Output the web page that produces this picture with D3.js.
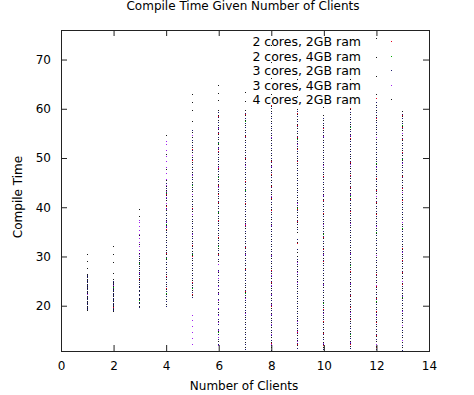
<!DOCTYPE html>
<html><head><meta charset="utf-8">
<script src="https://cdn.jsdelivr.net/npm/d3@7"></script>
<style>body{margin:0;background:#fff}svg{display:block}text{font-family:"DejaVu Sans",sans-serif;fill:#000}</style>
</head><body><svg id="c" width="474" height="395"></svg>
<script>
const clients = [1,2,3,4,5,6,7,8,9,10,11,12,13];
const xTicks = [0,2,4,6,8,10,12,14];
const yTicks = [20,30,40,50,60,70];
const seriesNames = ["2 cores, 2GB ram","2 cores, 4GB ram","3 cores, 2GB ram","3 cores, 4GB ram","4 cores, 2GB ram"];
const seriesColors = ["#e8001c","#00b000","#1a1a70","#a020f0","#181818"];

// compile times per client count (row 0 -> 1 client ... row 12 -> 13 clients)
const cores2ram2 = [
 [20.2,21.5,22.7,23.8,25.1,26.0],
 [19.6,20.9,22.4,23.9,25.0],
 [20.5,22.1,23.6,25.3,27.1,28.8,29.9],
 [21.2,23.4,25.9,28.3,30.6,32.9,35.4,37.8,40.1,42.6,44.8],
 [22.3,24.8,27.2,29.9,32.3,34.7,37.2,39.8,42.1,44.6,47.0,49.5,51.8,54.2],
 [30.4,32.1,33.9,35.6,37.4,39.1,40.9,42.6,44.4,46.1,47.9,49.6,51.4,53.1,54.9,56.6,58.4,59.6],
 [20.6,22.8,25.1,27.3,29.6,31.8,34.1,36.3,38.6,40.8,43.1,45.3,47.6,49.8,52.1,54.3,56.6,58.8],
 [12.4,14.9,17.3,19.8,22.2,24.7,27.1,29.6,32.0,34.5,36.9,39.4,41.8,44.3,46.7,49.2,51.6,54.1,56.5,59.0,60.6],
 [12.1,14.6,17.0,19.5,21.9,24.4,26.8,29.3,32.6,37.1,39.5,42.0,44.4,46.9,49.3,51.8,54.2,56.7,59.1],
 [11.9,14.3,16.8,19.2,21.7,24.1,26.6,29.0,31.5,33.9,36.4,38.8,41.3,43.7,46.2,48.6,51.1,53.5,56.0,58.0],
 [12.2,14.7,17.1,19.6,22.0,24.5,26.9,29.4,31.8,34.3,36.7,39.2,41.6,44.1,46.5,49.0,51.4,53.9,56.3,58.8,60.1],
 [11.6,14.0,16.5,18.9,21.4,23.8,26.3,28.7,31.2,33.6,36.1,38.5,41.0,43.4,45.9,48.3,50.8,53.2,55.7,58.1,60.6,62.0],
 [12.0,14.5,16.9,19.4,21.8,24.3,26.7,29.2,31.6,34.1,36.5,39.0,41.4,43.9,46.3,48.8,51.2,53.7,56.1,58.6]
];
const cores2ram4 = [
 [19.8,22.9,25.7],
 [20.2,23.7],
 [21.1,25.2,28.6],
 [22.5,29.5,36.5,43.0],
 [23.5,30.5,37.5,44.5,51.5],
 [14.5,32.0,39.0,46.0,53.0],
 [15.5,22.5,29.5,36.5,43.5,50.5,57.5],
 [14.0,21.0,28.0,35.0,42.0,49.0,56.0],
 [14.8,21.8,39.8,46.8,53.8],
 [13.5,20.5,27.5,34.5,41.5,48.5,55.5],
 [14.2,21.2,28.2,35.2,42.2,49.2,56.2],
 [13.8,20.8,27.8,34.8,41.8,48.8,55.8],
 [14.6,21.6,28.6,35.6,42.6,49.6,56.6]
];
const cores3ram2 = [
 [19.2,19.7,20.2,20.7,21.2,21.7,22.2,22.7,23.2,23.7,24.2,24.7,25.2,25.7,26.2],
 [19.0,19.5,20.0,20.5,21.0,21.5,22.0,22.5,23.0,23.5,24.0,24.5,25.0],
 [19.6,20.4,21.2,22.0,22.8,23.6,24.4,25.2,26.0,26.8,27.6,28.4,29.2,30.0],
 [19.8,20.8,21.8,22.8,23.8,24.8,25.8,26.8,27.8,28.8,29.8,30.8,31.8,32.8,33.8,34.8,35.8,36.8,37.8,38.8,39.8,40.8,41.8,42.8,43.8,44.8],
 [21.6,22.6,23.6,24.6,25.6,26.6,27.6,28.6,29.6,30.6,31.6,32.6,33.6,34.6,35.6,36.6,37.6,38.6,39.6,40.6,41.6,42.6,43.6,44.6,45.6,46.6,47.6,48.6,49.6,50.6,51.6,52.6,53.6,54.6,55.6],
 [12.2,13.2,14.2,15.2,16.2,17.2,18.2,19.2,20.2,21.2,22.2,23.2,24.2,25.2,26.2,27.2,28.4,29.3,30.2,31.2,32.2,33.2,34.2,35.2,36.2,37.2,38.2,39.2,40.2,41.2,42.2,43.2,44.2,45.2,46.2,47.2,48.2,49.2,50.2,51.2,52.2,53.2,54.2,55.2,56.2,57.2,58.2,59.2],
 [11.1,12.1,13.1,14.1,15.1,16.1,17.1,18.1,19.1,20.1,21.1,22.1,23.1,24.1,25.1,26.1,27.1,28.1,29.1,30.1,31.1,32.1,33.1,34.1,35.1,36.1,37.1,38.1,39.1,40.1,41.1,42.1,43.1,44.1,45.1,46.1,47.1,48.1,49.1,50.1,51.1,52.1,53.1,54.1,55.1,56.1,57.1,58.1,59.1],
 [11.0,12.0,13.0,14.0,15.0,16.0,17.0,18.0,19.0,20.0,21.0,22.0,23.0,24.0,25.0,26.0,27.0,28.0,29.0,30.0,31.0,32.0,33.0,34.0,35.0,36.0,37.0,38.0,39.0,40.0,41.0,42.0,43.0,44.0,45.0,46.0,47.0,48.0,49.0,50.0,51.0,52.0,53.0,54.0,55.0,56.0,57.0,58.0,59.0,60.0],
 [11.4,12.4,13.4,14.4,15.4,16.4,17.4,18.4,19.4,20.4,21.4,22.4,23.4,24.4,25.4,26.4,27.4,28.4,29.4,31.4,33.4,35.4,36.4,37.4,38.4,39.4,40.4,41.4,42.4,43.4,44.4,45.4,46.4,47.4,48.4,49.4,50.4,51.4,52.4,53.4,54.4,55.4,56.4,57.4,58.4,59.4],
 [11.1,12.1,13.1,14.1,15.1,16.1,17.1,18.1,19.1,20.1,21.1,22.1,23.1,24.1,25.1,26.1,27.1,28.1,29.1,30.1,31.1,32.1,33.1,34.1,35.1,36.1,37.1,38.1,39.1,40.1,41.1,42.1,43.1,44.1,45.1,46.1,47.1,48.1,49.1,50.1,51.1,52.1,53.1,54.1,55.1,56.1,57.1,58.1],
 [11.3,12.3,13.3,14.3,15.3,16.3,17.3,18.3,19.3,20.3,21.3,22.3,23.3,24.3,25.3,26.3,27.3,28.3,29.3,30.3,31.3,32.3,33.3,34.3,35.3,36.3,37.3,38.3,39.3,40.3,41.3,42.3,43.3,44.3,45.3,46.3,47.3,48.3,49.3,50.3,51.3,52.3,53.3,54.3,55.3,56.3,57.3,58.3,59.3],
 [11.2,12.2,13.2,14.2,15.2,16.2,17.2,18.2,19.2,20.2,21.2,22.2,23.2,24.2,25.2,26.2,27.2,28.2,29.2,30.2,31.2,32.2,33.2,34.2,35.2,36.2,37.2,38.2,39.2,40.2,41.2,42.2,43.2,44.2,45.2,46.2,47.2,48.2,49.2,50.2,51.2,52.2,53.2,54.2,55.2,56.2,57.2,58.2,59.2,60.2,61.2],
 [11.0,12.0,13.0,14.0,15.0,16.0,17.0,18.0,19.0,20.0,21.0,22.0,23.0,24.0,25.0,26.0,27.0,28.0,29.0,30.0,31.0,32.0,33.0,34.0,35.0,36.0,37.0,38.0,39.0,40.0,41.0,42.0,43.0,44.0,45.0,46.0,47.0,48.0,49.0,50.0,51.0,52.0,53.0,54.0,55.0,56.0,57.0,58.0,58.8]
];
const cores3ram4 = [
 [20.4,22.3,24.4],
 [21.3,24.1],
 [26.5,28.0,29.5,30.4,31.2,32.0,32.8,33.6,34.4,35.2,36.0,36.8,37.4],
 [36.0,37.2,38.4,39.6,40.8,42.0,43.2,44.4,45.6,46.8,48.0,49.2,50.4,51.6,52.8,53.4],
 [12.2,13.4,14.6,15.8,17.0,18.1,34.5,38.5,42.5,46.5,50.5,54.5],
 [12.0,13.5,15.0,16.5,18.0,19.5,21.0,22.5,24.0,25.5,27.0,28.3,44.0,48.0,52.0,56.0],
 [12.5,15.5,18.5,21.5,24.5,27.5,30.5,36.5,42.5,48.5,54.5],
 [12.2,14.2,16.2,18.2,20.2,22.2,24.2,26.2,30.2,36.2,42.2,48.2,54.2],
 [12.8,14.8,16.8,18.8,20.8,22.8,24.8,26.8,28.8,40.8,46.8,52.8],
 [12.4,18.4,24.4,30.4,36.4,42.4,48.4,54.4],
 [12.6,18.6,24.6,30.6,36.6,42.6,48.6,54.6],
 [12.1,18.1,24.1,30.1,36.1,42.1,48.1,54.1],
 [12.9,15.9,18.9,21.9,24.9,30.9,36.9,42.9,48.9,54.9]
];
const cores4ram2 = [
 [19.0,19.4,19.9,20.4,20.9,21.4,21.9,22.4,22.9,23.4,23.9,24.4,24.9,25.4,25.9,26.4,27.6,28.9,30.3],
 [18.9,19.3,19.8,20.3,20.8,21.3,21.8,22.3,22.8,23.3,23.8,24.3,24.8,25.3,26.6,28.7,30.4,32.1],
 [19.9,20.7,21.5,22.3,23.1,23.9,24.7,25.5,26.3,27.1,27.9,28.7,29.5,30.6,32.4,34.2,38.1,39.5],
 [20.2,21.3,22.3,23.3,24.3,25.3,26.3,27.3,28.3,29.3,30.3,31.3,32.3,33.3,34.3,35.3,36.3,37.3,38.3,39.3,40.3,41.3,42.3,43.3,44.3,45.4,47.6,50.8,54.6],
 [22.1,23.1,24.1,25.1,26.1,27.1,28.1,29.1,30.1,31.1,32.1,33.1,34.1,35.1,36.1,37.1,38.1,39.1,40.1,41.1,42.1,43.1,44.1,45.1,46.1,47.1,48.1,49.1,50.1,51.1,52.1,53.1,54.1,55.1,57.4,59.6,61.2,62.8],
 [12.7,14.7,16.7,18.7,20.7,22.7,24.7,26.7,28.9,30.7,31.7,32.7,33.7,34.7,35.7,36.7,37.7,38.7,39.7,40.7,41.7,42.7,43.7,44.7,45.7,46.7,47.7,48.7,49.7,50.7,51.7,52.7,53.7,54.7,55.7,56.7,57.7,58.7,59.7,61.6,63.2,64.8],
 [11.6,12.6,13.6,14.6,15.6,16.6,17.6,18.6,19.6,20.6,21.6,22.6,23.6,24.6,25.6,26.6,27.6,28.6,29.6,30.6,31.6,32.6,33.6,34.6,35.6,36.6,37.6,38.6,39.6,40.6,41.6,42.6,43.6,44.6,45.6,46.6,47.6,48.6,49.6,50.6,51.6,52.6,53.6,54.6,55.6,56.6,57.6,58.6,59.6,61.5,63.4],
 [11.5,12.5,13.5,14.5,15.5,16.5,17.5,18.5,19.5,20.5,21.5,22.5,23.5,24.5,25.5,26.5,27.5,28.5,29.5,30.5,31.5,32.5,33.5,34.5,35.5,36.5,37.5,38.5,39.5,40.5,41.5,42.5,43.5,44.5,45.5,46.5,47.5,48.5,49.5,50.5,51.5,52.5,53.5,54.5,55.5,56.5,57.5,58.5,59.5,60.5,63.0,66.2,69.4,72.9],
 [11.9,12.9,13.9,14.9,15.9,16.9,17.9,18.9,19.9,20.9,21.9,22.9,23.9,24.9,25.9,26.9,27.9,28.9,29.9,30.9,32.9,34.9,35.9,36.9,37.9,38.9,39.9,40.9,41.9,42.9,43.9,44.9,45.9,46.9,47.9,48.9,49.9,50.9,51.9,52.9,53.9,54.9,55.9,56.9,57.9,58.9,59.9,62.5,64.3,66.0],
 [11.6,12.6,13.6,14.6,15.6,16.6,17.6,18.6,19.6,20.6,21.6,22.6,23.6,24.6,25.6,26.6,27.6,28.6,29.6,30.6,31.6,32.6,33.6,34.6,35.6,36.6,37.6,38.6,39.6,40.6,41.6,42.6,43.6,44.6,45.6,46.6,47.6,48.6,49.6,50.6,51.6,52.6,53.6,54.6,55.6,56.6,57.6,58.6,60.2],
 [11.8,12.8,13.8,14.8,15.8,16.8,17.8,18.8,19.8,20.8,21.8,22.8,23.8,24.8,25.8,26.8,27.8,28.8,29.8,30.8,31.8,32.8,33.8,34.8,35.8,36.8,37.8,38.8,39.8,40.8,41.8,42.8,43.8,44.8,45.8,46.8,47.8,48.8,49.8,50.8,51.8,52.8,53.8,54.8,55.8,56.8,57.8,58.8,59.8,61.5,66.0,70.0,74.0],
 [11.7,12.7,13.7,14.7,15.7,16.7,17.7,18.7,19.7,20.7,21.7,22.7,23.7,24.7,25.7,26.7,27.7,28.7,29.7,30.7,31.7,32.7,33.7,34.7,35.7,36.7,37.7,38.7,39.7,40.7,41.7,42.7,43.7,44.7,45.7,46.7,47.7,48.7,49.7,50.7,51.7,52.7,53.7,54.7,55.7,56.7,57.7,58.7,59.7,60.7,62.8,66.5,70.5,74.2],
 [11.5,12.5,13.5,14.5,15.5,16.5,17.5,18.5,19.5,20.5,21.5,22.5,23.5,24.5,25.5,26.5,27.5,28.5,29.5,30.5,31.5,32.5,33.5,34.5,35.5,36.5,37.5,38.5,39.5,40.5,41.5,42.5,43.5,44.5,45.5,46.5,47.5,48.5,49.5,50.5,51.5,52.5,53.5,54.5,55.5,56.5,57.5,58.5,59.5]
];
const seriesData = [cores2ram2, cores2ram4, cores3ram2, cores3ram4, cores4ram2];

const svg = d3.select("#c");
const L = 61, R = 429, T = 30, B = 351;
const x = d3.scaleLinear().domain([0,14]).range([L,R]);
const y = d3.scaleLinear().domain([10.8,76]).range([B,T]);

svg.append("text").attr("x",243).attr("y",10).attr("text-anchor","middle").style("font-size","12px").text("Compile Time Given Number of Clients");
svg.append("text").attr("x",244).attr("y",390).attr("text-anchor","middle").style("font-size","12px").text("Number of Clients");
svg.append("text").attr("transform","translate(22,197) rotate(-90)").attr("text-anchor","middle").style("font-size","12px").text("Compile Time");

// data dots
const pts = [];
seriesData.forEach((s,si)=>s.forEach((vals,ci)=>vals.forEach(v=>pts.push({si,c:clients[ci],v}))));
svg.append("g").attr("shape-rendering","crispEdges").selectAll("rect").data(pts).join("rect")
  .attr("x",d=>Math.floor(x(d.c))).attr("y",d=>Math.floor(y(d.v)))
  .attr("width",1).attr("height",1).attr("fill",d=>seriesColors[d.si]);

// axes (gnuplot style, inward ticks, mirrored)
const tick = 6;
const xb = d3.axisBottom(x).tickValues(xTicks).tickSizeInner(-tick).tickSizeOuter(0).tickPadding(10).tickFormat(d3.format("d"));
const yl = d3.axisLeft(y).tickValues(yTicks).tickSizeInner(-tick).tickSizeOuter(0).tickPadding(10).tickFormat(d3.format("d"));
const xt = d3.axisTop(x).tickValues(xTicks.slice(1,-1)).tickSizeInner(-tick).tickSizeOuter(0).tickFormat("");
const yr = d3.axisRight(y).tickValues(yTicks).tickSizeInner(-tick).tickSizeOuter(0).tickFormat("");
svg.append("g").attr("transform",`translate(0,${B})`).call(xb);
svg.append("g").attr("transform",`translate(${L},0)`).call(yl);
svg.append("g").attr("transform",`translate(0,${T})`).call(xt);
svg.append("g").attr("transform",`translate(${R},0)`).call(yr);
svg.selectAll(".domain").remove();
svg.selectAll(".tick line").attr("stroke","#222");
svg.selectAll(".tick text").style("font-size","12px").attr("fill","#000").style("font-family","DejaVu Sans, sans-serif");
svg.append("rect").attr("x",L+0.5).attr("y",T+0.5).attr("width",R-L).attr("height",B-T).attr("fill","none").attr("stroke","#222");

// legend
const keyY = [41.5,56,70.5,85,99.5];
const lg = svg.append("g").selectAll("g").data(seriesNames).join("g");
lg.append("text").attr("x",361).attr("y",(d,i)=>keyY[i]+4.5).attr("text-anchor","end").style("font-size","12.5px").text(d=>d);
lg.append("rect").attr("x",391).attr("y",(d,i)=>Math.floor(keyY[i])).attr("width",1).attr("height",1).attr("fill",(d,i)=>seriesColors[i]);
</script></body></html>
